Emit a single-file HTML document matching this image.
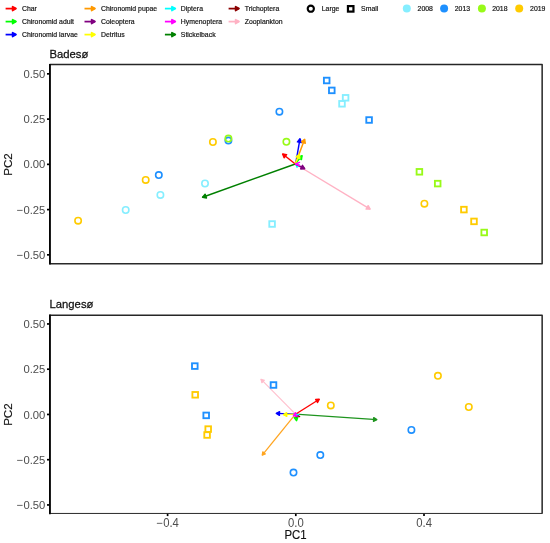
<!DOCTYPE html>
<html><head><meta charset="utf-8"><title>PCA biplot</title>
<style>html,body{margin:0;padding:0;background:#fff}svg{display:block}</style></head>
<body>
<svg width="550" height="543" viewBox="0 0 550 543" font-family='"Liberation Sans", sans-serif'>
<rect width="550" height="543" fill="#fff"/>
<line x1="5.60" y1="8.60" x2="16.00" y2="8.60" stroke="#FF0000" stroke-width="1.75" stroke-linecap="butt"/><path d="M12.62 10.55L16.00 8.60L12.62 6.65Z" fill="#FF0000" stroke="#FF0000" stroke-width="1.75" stroke-linejoin="round" stroke-linecap="round"/>
<text x="22.00" y="11.10" font-size="6.88" fill="#111" stroke="#111" stroke-width="0.18">Char</text>
<line x1="5.60" y1="21.60" x2="16.00" y2="21.60" stroke="#00FF00" stroke-width="1.75" stroke-linecap="butt"/><path d="M12.62 23.55L16.00 21.60L12.62 19.65Z" fill="#00FF00" stroke="#00FF00" stroke-width="1.75" stroke-linejoin="round" stroke-linecap="round"/>
<text x="22.00" y="24.10" font-size="6.88" fill="#111" stroke="#111" stroke-width="0.18">Chironomid adult</text>
<line x1="5.60" y1="34.60" x2="16.00" y2="34.60" stroke="#0000FF" stroke-width="1.75" stroke-linecap="butt"/><path d="M12.62 36.55L16.00 34.60L12.62 32.65Z" fill="#0000FF" stroke="#0000FF" stroke-width="1.75" stroke-linejoin="round" stroke-linecap="round"/>
<text x="22.00" y="37.10" font-size="6.88" fill="#111" stroke="#111" stroke-width="0.18">Chironomid larvae</text>
<line x1="84.50" y1="8.60" x2="95.00" y2="8.60" stroke="#FF9900" stroke-width="1.75" stroke-linecap="butt"/><path d="M91.62 10.55L95.00 8.60L91.62 6.65Z" fill="#FF9900" stroke="#FF9900" stroke-width="1.75" stroke-linejoin="round" stroke-linecap="round"/>
<text x="101.00" y="11.10" font-size="6.88" fill="#111" stroke="#111" stroke-width="0.18">Chironomid pupae</text>
<line x1="84.50" y1="21.60" x2="95.00" y2="21.60" stroke="#800080" stroke-width="1.75" stroke-linecap="butt"/><path d="M91.62 23.55L95.00 21.60L91.62 19.65Z" fill="#800080" stroke="#800080" stroke-width="1.75" stroke-linejoin="round" stroke-linecap="round"/>
<text x="101.00" y="24.10" font-size="6.88" fill="#111" stroke="#111" stroke-width="0.18">Coleoptera</text>
<line x1="84.50" y1="34.60" x2="95.00" y2="34.60" stroke="#FFFF00" stroke-width="1.75" stroke-linecap="butt"/><path d="M91.62 36.55L95.00 34.60L91.62 32.65Z" fill="#FFFF00" stroke="#FFFF00" stroke-width="1.75" stroke-linejoin="round" stroke-linecap="round"/>
<text x="101.00" y="37.10" font-size="6.88" fill="#111" stroke="#111" stroke-width="0.18">Detritus</text>
<line x1="164.90" y1="8.60" x2="175.30" y2="8.60" stroke="#00FFFF" stroke-width="1.75" stroke-linecap="butt"/><path d="M171.92 10.55L175.30 8.60L171.92 6.65Z" fill="#00FFFF" stroke="#00FFFF" stroke-width="1.75" stroke-linejoin="round" stroke-linecap="round"/>
<text x="180.80" y="11.10" font-size="6.88" fill="#111" stroke="#111" stroke-width="0.18">Diptera</text>
<line x1="164.90" y1="21.60" x2="175.30" y2="21.60" stroke="#FF00FF" stroke-width="1.75" stroke-linecap="butt"/><path d="M171.92 23.55L175.30 21.60L171.92 19.65Z" fill="#FF00FF" stroke="#FF00FF" stroke-width="1.75" stroke-linejoin="round" stroke-linecap="round"/>
<text x="180.80" y="24.10" font-size="6.88" fill="#111" stroke="#111" stroke-width="0.18">Hymenoptera</text>
<line x1="164.90" y1="34.60" x2="175.30" y2="34.60" stroke="#008000" stroke-width="1.75" stroke-linecap="butt"/><path d="M171.92 36.55L175.30 34.60L171.92 32.65Z" fill="#008000" stroke="#008000" stroke-width="1.75" stroke-linejoin="round" stroke-linecap="round"/>
<text x="180.80" y="37.10" font-size="6.88" fill="#111" stroke="#111" stroke-width="0.18">Stickelback</text>
<line x1="228.60" y1="8.60" x2="239.00" y2="8.60" stroke="#8B0000" stroke-width="1.75" stroke-linecap="butt"/><path d="M235.62 10.55L239.00 8.60L235.62 6.65Z" fill="#8B0000" stroke="#8B0000" stroke-width="1.75" stroke-linejoin="round" stroke-linecap="round"/>
<text x="244.70" y="11.10" font-size="6.88" fill="#111" stroke="#111" stroke-width="0.18">Trichoptera</text>
<line x1="228.60" y1="21.60" x2="239.00" y2="21.60" stroke="#FFB2C4" stroke-width="1.75" stroke-linecap="butt"/><path d="M235.62 23.55L239.00 21.60L235.62 19.65Z" fill="#FFB2C4" stroke="#FFB2C4" stroke-width="1.75" stroke-linejoin="round" stroke-linecap="round"/>
<text x="244.70" y="24.10" font-size="6.88" fill="#111" stroke="#111" stroke-width="0.18">Zooplankton</text>
<circle cx="310.8" cy="8.7" r="3.1" fill="none" stroke="#000" stroke-width="2.1"/>
<text x="321.8" y="11.1" font-size="6.88" fill="#111" stroke="#111" stroke-width="0.18">Large</text>
<rect x="347.95" y="6.1" width="5.5" height="5.5" fill="none" stroke="#000" stroke-width="2.2"/>
<text x="361.1" y="11.1" font-size="6.88" fill="#111" stroke="#111" stroke-width="0.18">Small</text>
<circle cx="406.8" cy="8.4" r="4.0" fill="#85EEFF"/>
<text x="417.6" y="11.1" font-size="6.88" fill="#111" stroke="#111" stroke-width="0.18">2008</text>
<circle cx="444.1" cy="8.4" r="4.0" fill="#1E90FF"/>
<text x="454.8" y="11.1" font-size="6.88" fill="#111" stroke="#111" stroke-width="0.18">2013</text>
<circle cx="481.9" cy="8.4" r="4.0" fill="#98FA18"/>
<text x="492.2" y="11.1" font-size="6.88" fill="#111" stroke="#111" stroke-width="0.18">2018</text>
<circle cx="519.2" cy="8.4" r="4.0" fill="#FFCB00"/>
<text x="530.1" y="11.1" font-size="6.88" fill="#111" stroke="#111" stroke-width="0.18">2019</text>
<text transform="translate(49.5 58) scale(1 1.04)" font-size="11.3" fill="#111" stroke="#111" stroke-width="0.25">Badesø</text>
<line x1="47.0" x2="49.9" y1="73.85" y2="73.85" stroke="#000" stroke-width="1.7"/>
<text transform="translate(45.4 77.90) scale(1 1.04)" font-size="11.3" fill="#4D4D4D" text-anchor="end">0.50</text>
<line x1="47.0" x2="49.9" y1="119.10" y2="119.10" stroke="#000" stroke-width="1.7"/>
<text transform="translate(45.4 123.15) scale(1 1.04)" font-size="11.3" fill="#4D4D4D" text-anchor="end">0.25</text>
<line x1="47.0" x2="49.9" y1="164.35" y2="164.35" stroke="#000" stroke-width="1.7"/>
<text transform="translate(45.4 168.40) scale(1 1.04)" font-size="11.3" fill="#4D4D4D" text-anchor="end">0.00</text>
<line x1="47.0" x2="49.9" y1="209.60" y2="209.60" stroke="#000" stroke-width="1.7"/>
<text transform="translate(45.4 213.65) scale(1 1.04)" font-size="11.3" fill="#4D4D4D" text-anchor="end">−0.25</text>
<line x1="47.0" x2="49.9" y1="254.85" y2="254.85" stroke="#000" stroke-width="1.7"/>
<text transform="translate(45.4 258.90) scale(1 1.04)" font-size="11.3" fill="#4D4D4D" text-anchor="end">−0.50</text>
<text transform="translate(11.6 164.55) rotate(-90) scale(1.05 1)" font-size="11" fill="#111" stroke="#111" stroke-width="0.15" text-anchor="middle">PC2</text>
<line x1="295.30" y1="164.00" x2="370.10" y2="209.14" stroke="#FFB2C4" stroke-width="1.45" stroke-linecap="butt"/><path d="M366.10 209.06L370.10 209.14L368.17 205.64Z" fill="#FFB2C4" stroke="#FFB2C4" stroke-width="1.45" stroke-linejoin="round" stroke-linecap="round"/>
<line x1="295.30" y1="164.00" x2="202.56" y2="197.26" stroke="#008000" stroke-width="1.45" stroke-linecap="butt"/><path d="M205.14 194.21L202.56 197.26L206.49 197.98Z" fill="#008000" stroke="#008000" stroke-width="1.45" stroke-linejoin="round" stroke-linecap="round"/>
<line x1="295.30" y1="164.00" x2="282.65" y2="154.03" stroke="#FF0000" stroke-width="1.45" stroke-linecap="butt"/><path d="M286.61 154.61L282.65 154.03L284.13 157.75Z" fill="#FF0000" stroke="#FF0000" stroke-width="1.45" stroke-linejoin="round" stroke-linecap="round"/>
<line x1="295.60" y1="164.00" x2="299.98" y2="138.79" stroke="#0000FF" stroke-width="1.45" stroke-linecap="butt"/><path d="M301.36 142.54L299.98 138.79L297.42 141.86Z" fill="#0000FF" stroke="#0000FF" stroke-width="1.45" stroke-linejoin="round" stroke-linecap="round"/>
<line x1="295.30" y1="164.00" x2="304.65" y2="139.35" stroke="#FF9900" stroke-width="1.45" stroke-linecap="butt"/><path d="M305.29 143.30L304.65 139.35L301.55 141.88Z" fill="#FF9900" stroke="#FF9900" stroke-width="1.45" stroke-linejoin="round" stroke-linecap="round"/>
<line x1="295.30" y1="164.00" x2="302.06" y2="155.64" stroke="#00FF00" stroke-width="1.45" stroke-linecap="butt"/><path d="M301.44 159.60L302.06 155.64L298.33 157.08Z" fill="#00FF00" stroke="#00FF00" stroke-width="1.45" stroke-linejoin="round" stroke-linecap="round"/>
<line x1="295.30" y1="164.00" x2="299.33" y2="154.35" stroke="#FFFF00" stroke-width="1.45" stroke-linecap="butt"/><path d="M299.84 158.31L299.33 154.35L296.15 156.77Z" fill="#FFFF00" stroke="#FFFF00" stroke-width="1.45" stroke-linejoin="round" stroke-linecap="round"/>
<path d="M295.3 164.0L299.30 164.40L297.00 167.60Z" fill="#00FFFF" stroke="#00FFFF" stroke-width="1" stroke-linejoin="round"/>
<line x1="295.30" y1="164.00" x2="304.67" y2="168.69" stroke="#800080" stroke-width="1.45" stroke-linecap="butt"/><path d="M300.68 168.93L304.67 168.69L302.47 165.35Z" fill="#800080" stroke="#800080" stroke-width="1.45" stroke-linejoin="round" stroke-linecap="round"/>
<path d="M299.50 162.40L295.60 164.0L299.50 165.50" fill="none" stroke="#FF00FF" stroke-width="1.45" stroke-linejoin="round" stroke-linecap="round"/>
<circle cx="78.10" cy="220.70" r="3.2" fill="none" stroke="#FFCB00" stroke-width="1.6"/>
<circle cx="125.70" cy="210.00" r="3.2" fill="none" stroke="#85EEFF" stroke-width="1.6"/>
<circle cx="145.70" cy="179.90" r="3.2" fill="none" stroke="#FFCB00" stroke-width="1.6"/>
<circle cx="158.80" cy="175.10" r="3.2" fill="none" stroke="#1E90FF" stroke-width="1.6"/>
<circle cx="160.40" cy="194.90" r="3.2" fill="none" stroke="#85EEFF" stroke-width="1.6"/>
<circle cx="205.00" cy="183.50" r="3.2" fill="none" stroke="#85EEFF" stroke-width="1.6"/>
<circle cx="212.90" cy="142.00" r="3.2" fill="none" stroke="#FFCB00" stroke-width="1.6"/>
<circle cx="228.40" cy="140.60" r="3.2" fill="none" stroke="#1E90FF" stroke-width="1.6"/>
<circle cx="228.40" cy="138.60" r="3.2" fill="none" stroke="#98FA18" stroke-width="1.6"/>
<circle cx="279.40" cy="111.70" r="3.2" fill="none" stroke="#1E90FF" stroke-width="1.6"/>
<circle cx="286.40" cy="141.80" r="3.2" fill="none" stroke="#98FA18" stroke-width="1.6"/>
<rect x="269.30" y="221.20" width="5.6" height="5.6" fill="none" stroke="#85EEFF" stroke-width="1.85"/>
<rect x="323.90" y="77.70" width="5.6" height="5.6" fill="none" stroke="#1E90FF" stroke-width="1.85"/>
<rect x="329.00" y="87.60" width="5.6" height="5.6" fill="none" stroke="#1E90FF" stroke-width="1.85"/>
<rect x="342.80" y="95.00" width="5.6" height="5.6" fill="none" stroke="#85EEFF" stroke-width="1.85"/>
<rect x="339.20" y="101.00" width="5.6" height="5.6" fill="none" stroke="#85EEFF" stroke-width="1.85"/>
<rect x="366.30" y="117.20" width="5.6" height="5.6" fill="none" stroke="#1E90FF" stroke-width="1.85"/>
<rect x="416.60" y="169.00" width="5.6" height="5.6" fill="none" stroke="#98FA18" stroke-width="1.85"/>
<rect x="434.90" y="180.80" width="5.6" height="5.6" fill="none" stroke="#98FA18" stroke-width="1.85"/>
<circle cx="424.40" cy="203.70" r="3.2" fill="none" stroke="#FFCB00" stroke-width="1.6"/>
<rect x="461.10" y="206.80" width="5.6" height="5.6" fill="none" stroke="#FFCB00" stroke-width="1.85"/>
<rect x="471.20" y="218.60" width="5.6" height="5.6" fill="none" stroke="#FFCB00" stroke-width="1.85"/>
<rect x="481.40" y="229.70" width="5.6" height="5.6" fill="none" stroke="#98FA18" stroke-width="1.85"/>
<path d="M49.9 263.8V64.6H542.15V263.8" stroke="#262626" stroke-width="1.5" fill="none" stroke-linejoin="round"/>
<path d="M49.9 263.8H542.15" stroke="#2a2a2a" stroke-width="1.5" fill="none" stroke-linecap="round"/>
<path d="M49.9 63.89999999999999V264.5" stroke="#000" stroke-width="1.65" fill="none"/>
<text transform="translate(49.5 308) scale(1 1.04)" font-size="11.3" fill="#111" stroke="#111" stroke-width="0.25">Langesø</text>
<line x1="47.0" x2="49.9" y1="323.95" y2="323.95" stroke="#000" stroke-width="1.7"/>
<text transform="translate(45.4 328.00) scale(1 1.04)" font-size="11.3" fill="#4D4D4D" text-anchor="end">0.50</text>
<line x1="47.0" x2="49.9" y1="369.20" y2="369.20" stroke="#000" stroke-width="1.7"/>
<text transform="translate(45.4 373.25) scale(1 1.04)" font-size="11.3" fill="#4D4D4D" text-anchor="end">0.25</text>
<line x1="47.0" x2="49.9" y1="414.45" y2="414.45" stroke="#000" stroke-width="1.7"/>
<text transform="translate(45.4 418.50) scale(1 1.04)" font-size="11.3" fill="#4D4D4D" text-anchor="end">0.00</text>
<line x1="47.0" x2="49.9" y1="459.70" y2="459.70" stroke="#000" stroke-width="1.7"/>
<text transform="translate(45.4 463.75) scale(1 1.04)" font-size="11.3" fill="#4D4D4D" text-anchor="end">−0.25</text>
<line x1="47.0" x2="49.9" y1="504.95" y2="504.95" stroke="#000" stroke-width="1.7"/>
<text transform="translate(45.4 509.00) scale(1 1.04)" font-size="11.3" fill="#4D4D4D" text-anchor="end">−0.50</text>
<text transform="translate(11.6 414.65) rotate(-90) scale(1.05 1)" font-size="11" fill="#111" stroke="#111" stroke-width="0.15" text-anchor="middle">PC2</text>
<line x1="167.60" x2="167.60" y1="513.4" y2="516.1" stroke="#000" stroke-width="1.7"/>
<text transform="translate(167.70 526.70) scale(1 1.05)" font-size="11.3" fill="#4D4D4D" text-anchor="middle">−0.4</text>
<line x1="295.80" x2="295.80" y1="513.4" y2="516.1" stroke="#000" stroke-width="1.7"/>
<text transform="translate(295.90 526.70) scale(1 1.05)" font-size="11.3" fill="#4D4D4D" text-anchor="middle">0.0</text>
<line x1="424.00" x2="424.00" y1="513.4" y2="516.1" stroke="#000" stroke-width="1.7"/>
<text transform="translate(424.10 526.70) scale(1 1.05)" font-size="11.3" fill="#4D4D4D" text-anchor="middle">0.4</text>
<text transform="translate(295.50 538.55) scale(1 1.06)" font-size="11.4" fill="#111" stroke="#111" stroke-width="0.15" text-anchor="middle">PC1</text>
<line x1="295.50" y1="414.20" x2="260.89" y2="379.20" stroke="#FFBDCB" stroke-width="1.05" stroke-linecap="butt"/><path d="M264.46 380.18L260.89 379.20L261.83 382.78Z" fill="#FFBDCB" stroke="#FFBDCB" stroke-width="1.05" stroke-linejoin="round" stroke-linecap="round"/>
<line x1="295.50" y1="414.20" x2="376.80" y2="419.65" stroke="#1E941E" stroke-width="1.35" stroke-linecap="butt"/><path d="M373.48 421.28L376.80 419.65L373.73 417.59Z" fill="#1E941E" stroke="#1E941E" stroke-width="1.35" stroke-linejoin="round" stroke-linecap="round"/>
<line x1="295.50" y1="414.20" x2="319.31" y2="399.27" stroke="#FF0000" stroke-width="1.35" stroke-linecap="butt"/><path d="M317.58 402.54L319.31 399.27L315.61 399.41Z" fill="#FF0000" stroke="#FF0000" stroke-width="1.35" stroke-linejoin="round" stroke-linecap="round"/>
<line x1="295.50" y1="414.20" x2="276.30" y2="413.43" stroke="#0000FF" stroke-width="1.35" stroke-linecap="butt"/><path d="M279.58 411.71L276.30 413.43L279.43 415.41Z" fill="#0000FF" stroke="#0000FF" stroke-width="1.35" stroke-linejoin="round" stroke-linecap="round"/>
<line x1="295.50" y1="414.20" x2="262.24" y2="455.06" stroke="#FFA520" stroke-width="1.25" stroke-linecap="butt"/><path d="M262.77 451.80L262.24 455.06L265.33 453.88Z" fill="#FFA520" stroke="#FFA520" stroke-width="1.25" stroke-linejoin="round" stroke-linecap="round"/>
<line x1="295.50" y1="414.20" x2="283.50" y2="414.58" stroke="#FFFF00" stroke-width="1.35" stroke-linecap="butt"/><path d="M286.64 412.63L283.50 414.58L286.76 416.33Z" fill="#FFFF00" stroke="#FFFF00" stroke-width="1.35" stroke-linejoin="round" stroke-linecap="round"/>
<line x1="295.50" y1="413.20" x2="296.51" y2="420.71" stroke="#00FF00" stroke-width="1.35" stroke-linecap="butt"/><path d="M294.25 417.78L296.51 420.71L297.91 417.28Z" fill="#00FF00" stroke="#00FF00" stroke-width="1.35" stroke-linejoin="round" stroke-linecap="round"/>
<line x1="297.6" y1="415.6" x2="299.6" y2="416.6" stroke="#8B0000" stroke-width="1.3" stroke-linecap="round"/>
<line x1="297.10" y1="415.60" x2="295.68" y2="414.11" stroke="#800080" stroke-width="1.35" stroke-linecap="butt"/><path d="M298.56 414.96L295.68 414.11L296.38 417.02Z" fill="#800080" stroke="#800080" stroke-width="1.35" stroke-linejoin="round" stroke-linecap="round"/>
<line x1="295.20" y1="416.20" x2="295.53" y2="412.70" stroke="#FF00FF" stroke-width="1.35" stroke-linecap="butt"/><path d="M297.07 416.06L295.53 412.70L293.39 415.71Z" fill="#FF00FF" stroke="#FF00FF" stroke-width="1.35" stroke-linejoin="round" stroke-linecap="round"/>
<line x1="296.3" y1="414.5" x2="299.2" y2="414.7" stroke="#00FFFF" stroke-width="1.2"/>
<rect x="192.00" y="363.30" width="5.6" height="5.6" fill="none" stroke="#1E90FF" stroke-width="1.85"/>
<rect x="192.40" y="392.00" width="5.6" height="5.6" fill="none" stroke="#FFCB00" stroke-width="1.85"/>
<rect x="203.40" y="412.60" width="5.6" height="5.6" fill="none" stroke="#1E90FF" stroke-width="1.85"/>
<rect x="205.40" y="426.30" width="5.6" height="5.6" fill="none" stroke="#FFCB00" stroke-width="1.85"/>
<rect x="204.30" y="432.20" width="5.6" height="5.6" fill="none" stroke="#FFCB00" stroke-width="1.85"/>
<rect x="270.70" y="382.20" width="5.6" height="5.6" fill="none" stroke="#1E90FF" stroke-width="1.85"/>
<circle cx="330.80" cy="405.40" r="3.2" fill="none" stroke="#FFCB00" stroke-width="1.6"/>
<circle cx="320.30" cy="455.10" r="3.2" fill="none" stroke="#1E90FF" stroke-width="1.6"/>
<circle cx="293.50" cy="472.60" r="3.2" fill="none" stroke="#1E90FF" stroke-width="1.6"/>
<circle cx="437.90" cy="375.80" r="3.2" fill="none" stroke="#FFCB00" stroke-width="1.6"/>
<circle cx="468.80" cy="407.00" r="3.2" fill="none" stroke="#FFCB00" stroke-width="1.6"/>
<circle cx="411.40" cy="429.90" r="3.2" fill="none" stroke="#1E90FF" stroke-width="1.6"/>
<path d="M49.9 513.4499999999999V315.2H542.15V513.4499999999999" stroke="#262626" stroke-width="1.5" fill="none" stroke-linejoin="round"/>
<path d="M49.9 513.4499999999999H542.15" stroke="#2a2a2a" stroke-width="1.0" fill="none" stroke-linecap="round"/>
<path d="M49.9 314.5V514.15" stroke="#000" stroke-width="1.65" fill="none"/>
</svg>
</body></html>
